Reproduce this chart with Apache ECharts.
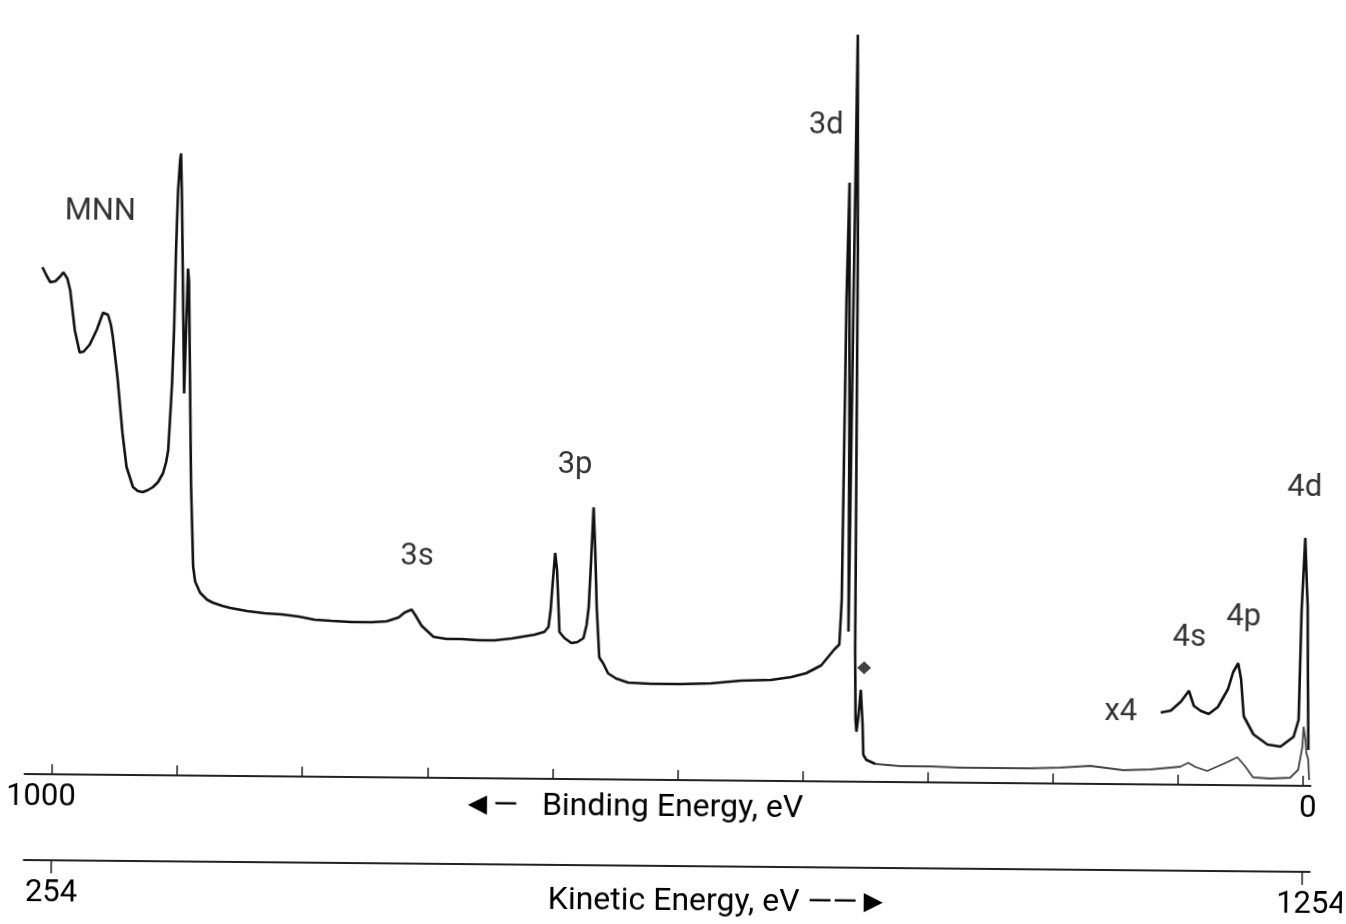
<!DOCTYPE html>
<html>
<head>
<meta charset="utf-8">
<script src="https://cdn.jsdelivr.net/npm/echarts@6/dist/echarts.min.js"></script>
<style>
  html, body { margin: 0; padding: 0; background: #fff; overflow: hidden; }
  #chart { width: 1346px; height: 924px; background: #fff; transform: rotate(0.53deg); transform-origin: 50% 50%; }
</style>
</head>
<body>
<div id="chart"></div>
<script>
// Main survey trace (binding energy in eV, intensity in arbitrary units)
const mainBE = [1011.5, 1008.3, 1005.1, 1001.1, 997.1, 994.7, 991.5, 989.1, 985.1, 981.1,
  977.9, 973.1, 967.5, 962.7, 958.7, 956.3, 954.7, 950.7, 946.3, 942.8,
  937.5, 933.6, 929.6, 925.6, 921.6, 917.6, 913.6, 911.2, 909.6, 908.4,
  907.0, 905.8, 904.8, 903.6, 902.2, 901.5, 900.4, 897.3, 896.2, 895.1,
  894.2, 891.1, 888.8, 887.1, 883.1, 877.4, 872.6, 865.3, 858.9, 845.3,
  831.3, 817.7, 804.1, 791.4, 777.8, 761.8, 745.8, 733.8, 724.2, 719.4,
  713.8, 710.6, 705.8, 696.2, 685.8, 673.8, 660.2, 647.5, 633.9, 615.5,
  607.5, 604.3, 602.7, 601.1, 599.5, 597.9, 597.1, 595.5, 591.5, 585.9,
  581.1, 576.3, 573.9, 572.3, 570.7, 569.1, 567.5, 565.9, 563.5, 560.3,
  556.3, 549.9, 540.3, 522.0, 498.0, 474.0, 450.0, 426.0, 410.0, 398.0,
  386.0, 375.7, 371.7, 370.1, 368.5, 366.9, 365.3, 364.5, 362.9, 361.4,
  359.8, 359.0, 358.2, 357.4, 355.8, 354.2, 352.5, 351.7, 349.3, 342.1];
const mainIntensity = [507, 499, 492, 493, 498, 502, 496, 484, 444, 422,
  423, 430, 445, 462, 460, 450, 438, 398, 342, 308,
  288, 284, 283, 285, 288, 293, 302, 313, 325, 355,
  392, 445, 525, 585, 615, 622, 575, 382, 445, 507,
  495, 292, 209, 194, 183, 176, 173, 170, 168, 165,
  163, 162, 160, 157, 156, 155, 155, 156, 160, 165,
  168, 162, 152, 141, 139, 139, 138, 138, 140, 144,
  147, 152, 169, 199, 226, 209, 189, 147, 141, 136,
  137, 141, 154, 172, 219, 272, 229, 172, 122, 116,
  106, 101, 97, 96, 96, 97, 100, 101, 104, 108,
  116, 132, 137, 182, 482, 599, 362, 150, 482, 747,
  532, 132, 62, 50, 67, 92, 57, 27, 22, 18];

// Low-intensity (x1) continuation towards the Fermi level
const tailBE = [342.1, 322.1, 298.1, 274.1, 242.2, 218.2, 194.2, 170.2, 143.8, 122.2,
  98.3, 91.9, 86.3, 76.7, 60.7, 52.7, 46.4, 40.0, 26.4, 10.4,
  4.0, 0.8, 0.0, -1.6, -2.4, -4.0, -4.8];
const tailIntensity = [18, 16, 16, 15, 15, 15, 16, 18, 14, 15,
  18, 22, 18, 14, 23, 28, 19, 8, 7, 8,
  16, 39, 59, 46, 33, 26, 6];

// Valence region magnified x4
const x4BE = [114.3, 106.3, 98.3, 91.9, 87.9, 82.3, 75.9, 68.7, 60.7, 56.7,
  52.7, 50.3, 47.9, 40.0, 28.8, 18.3, 7.9, 4.0, 2.4, 0.0,
  -1.6, -2.4, -3.2, -4.0];
const x4Intensity = [72, 74, 83, 94, 79, 74, 71, 78, 96, 113,
  122, 106, 69, 51, 41, 39, 49, 66, 176, 248,
  200, 180, 100, 36];

// Satellite marker (diamond)
const satelliteBE = [351.7];
const satelliteIntensity = [114];

// Peak annotations
const peakNames = ['MNN', '3d', '3p', '3s', '4s', '4p', '4d', 'x4'];
const peakBE = [965.6, 386.0, 584.3, 709.8, 91.9, 48.7, 0.8, 146.2];
const peakIntensity = [563, 656, 314, 221, 147, 168, 298, 72];

// Axes
const bindingTicks = [0, 100, 200, 300, 400, 500, 600, 700, 800, 900, 1000];
const bindingLabels = [0, 1000];
const kineticTicks = [254, 1254];
const kineticLabels = [254, 1254];
const photonOffset = 1254; // KE = 1254 - BE

const FONT = "Roboto, 'Liberation Sans Narrow', sans-serif";
const INK = '#000000';

const zip = (xs, ys) => xs.map((x, i) => [x, ys[i]]);

const beMin = -6, beMax = 1022;

const labelRich = {
  l: { fontSize: 31, fontFamily: FONT, color: INK, padding: [0, 22, 0, 0] },
  r: { fontSize: 31, fontFamily: FONT, color: INK, padding: [0, 0, 0, 10] },
  rr: { fontSize: 31, fontFamily: FONT, color: INK, padding: [0, 0, 0, 18] },
  c: { fontSize: 31, fontFamily: FONT, color: INK }
};

const chart = echarts.init(document.getElementById('chart'), null, { renderer: 'canvas' });
chart.setOption({
  animation: false,
  backgroundColor: '#ffffff',
  textStyle: { fontFamily: FONT, color: INK },
  grid: { left: 27.5, right: 32.5, top: 30, bottom: 144, containLabel: false, outerBoundsMode: 'none' },
  xAxis: [
    {
      type: 'value', inverse: true, min: beMin, max: beMax, position: 'bottom',
      axisLine: { lineStyle: { color: '#222', width: 2 } },
      axisTick: { show: true, inside: true, length: 10, customValues: bindingTicks, lineStyle: { color: '#222', width: 1.5 } },
      axisLabel: {
        customValues: bindingLabels, fontSize: 31, margin: 8, color: INK, fontFamily: FONT,
        formatter: v => (v === 1000 ? '{l|' + v + '}' : '{r|' + v + '}'), rich: labelRich
      },
      splitLine: { show: false },
      name: '◄—   Binding Energy, eV',
      nameLocation: 'middle', nameGap: 12, nameMoveOverlap: false,
      nameTextStyle: { fontSize: 32, color: INK, fontFamily: FONT, verticalAlign: 'top', padding: [0, 70, 0, 0] }
    },
    {
      type: 'value', min: photonOffset - beMax, max: photonOffset - beMin, position: 'bottom', offset: 86,
      axisLine: { lineStyle: { color: '#222', width: 2 } },
      axisTick: { show: true, inside: false, length: 13, customValues: kineticTicks, lineStyle: { color: '#222', width: 1.5 } },
      axisLabel: {
        customValues: kineticLabels, fontSize: 31, margin: 18, color: INK, fontFamily: FONT,
        formatter: v => (v === 1254 ? '{rr|' + v + '}' : '{c|' + v + '}'), rich: labelRich
      },
      splitLine: { show: false },
      name: 'Kinetic Energy, eV ——►',
      nameLocation: 'middle', nameGap: 20, nameMoveOverlap: false,
      nameTextStyle: { fontSize: 32, color: INK, fontFamily: FONT, verticalAlign: 'top', padding: [0, 0, 0, 104] }
    }
  ],
  yAxis: { type: 'value', min: 0, max: 750, show: false },
  series: [
    {
      name: 'survey', type: 'line', xAxisIndex: 0, data: zip(mainBE, mainIntensity),
      showSymbol: false, symbol: 'none', lineStyle: { color: '#111', width: 2.6 }, z: 3
    },
    {
      name: 'survey x1', type: 'line', xAxisIndex: 0, data: zip(tailBE, tailIntensity),
      showSymbol: false, symbol: 'none', lineStyle: { color: '#444', width: 1.8 }, z: 2
    },
    {
      name: 'valence x4', type: 'line', xAxisIndex: 0, data: zip(x4BE, x4Intensity),
      showSymbol: false, symbol: 'none', lineStyle: { color: '#111', width: 2.6 }, z: 3
    },
    {
      name: 'satellite', type: 'scatter', xAxisIndex: 0, data: zip(satelliteBE, satelliteIntensity),
      symbol: 'diamond', symbolSize: [14, 13], itemStyle: { color: '#111' }, z: 4
    },
    {
      name: 'peaks', type: 'scatter', xAxisIndex: 0,
      data: peakBE.map((b, i) => ({ value: [b, peakIntensity[i]], name: peakNames[i] })),
      symbol: 'circle', symbolSize: 1, itemStyle: { color: 'rgba(0,0,0,0)' },
      label: {
        show: true, position: 'inside', align: 'center', verticalAlign: 'middle',
        formatter: p => p.name, fontSize: 31, color: INK, fontFamily: FONT
      },
      z: 5
    }
  ]
});
</script>
</body>
</html>
